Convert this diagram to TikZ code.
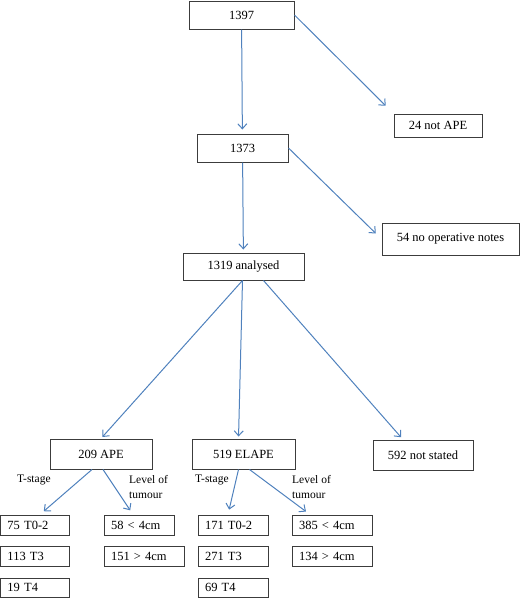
\documentclass[tikz,border=0pt]{standalone}
\usepackage{fontspec}
\setmainfont{Liberation Serif}
\usetikzlibrary{arrows.meta}
\definecolor{flowblue}{RGB}{79,129,189}
\definecolor{boxgrey}{RGB}{60,60,60}
\begin{document}
\begin{tikzpicture}[x=1pt,y=-1pt,
  box/.style={draw=boxgrey, line width=1pt, inner sep=0pt, font=\fontsize{12.5}{14}\selectfont},
  cell/.style={box, inner xsep=7pt, minimum height=20pt, align=left},
  flow/.style={draw=flowblue, line width=1pt, -{Straight Barb[length=5pt,width=9pt]}},
  lab/.style={font=\fontsize{11.5}{15}\selectfont, inner sep=0pt, anchor=west, align=left}]
\useasboundingbox (0,0) rectangle (520,598);
% main flow
\node[box, minimum width=105pt, minimum height=28pt] (n1397) at (241.5,15){1397};
\node[box, minimum width=88pt, minimum height=23pt] (n24) at (438,125.5){24 not APE};
\node[box, minimum width=91pt, minimum height=28pt] (n1373) at (242.5,148){1373};
\node[box, minimum width=137pt, minimum height=32pt] (n54) at (450.5,239){54 no operative notes};
\node[box, minimum width=121pt, minimum height=27pt] (n1319) at (243.5,266.5){1319 analysed};
\draw[flow, shorten >=4pt](n1397) -- (n1373);
\draw[flow, shorten >=11pt](n1397.east) -- (n24.north west);
\draw[flow, shorten >=3pt](n1373) -- (n1319);
\draw[flow, shorten >=8pt](n1373.east) -- (n54.west);
% split by operation
\node[box, minimum width=102pt, minimum height=30pt] (ape) at (101,454){209 APE};
\node[box, minimum width=103pt, minimum height=30pt] (elape) at (243.5,454){519 ELAPE};
\node[box, minimum width=100pt, minimum height=30pt] (ns) at (423,455){592 not stated};
\draw[flow, shorten >=2pt]([xshift=-1pt]n1319.south) -- (ape.north);
\draw[flow, shorten >=2pt]([xshift=-1pt]n1319.south) -- ([xshift=-5pt]elape.north);
\draw[flow, shorten >=3pt]([xshift=20pt]n1319.south) -- ([xshift=-20pt]ns.north);
% APE
\node[lab] (apet) at (17,480){T-stage};
\node[lab] (apel) at (129,487){Level of\\tumour};
\node[cell, text width=55pt] (a1) at (35,525){75 T0-2};
\node[cell, text width=56pt] (a2) at (139,525){58 < 4cm};
\node[cell, text width=55pt] (a3) at (35,556){113 T3};
\node[cell, text width=66pt] (a4) at (144,556){151 > 4cm};
\node[cell, text width=55pt, minimum height=19pt] (a5) at (35,587.5){19 T4};
\draw[flow, shorten >=5pt]([xshift=-9pt]ape.south) -- ([xshift=5pt]a1.north);
\draw[flow, shorten >=5pt]([xshift=2pt]ape.south) -- ([xshift=-6pt]a2.north);
% ELAPE
\node[lab] (elapet) at (195,480){T-stage};
\node[lab] (elapel) at (292,487){Level of\\tumour};
\node[cell, text width=56pt] (e1) at (233,525){171 T0-2};
\node[cell, text width=66pt] (e2) at (332,525){385 < 4cm};
\node[cell, text width=56pt] (e3) at (233,556){271 T3};
\node[cell, text width=66pt] (e4) at (332,556){134 > 4cm};
\node[cell, text width=56pt, minimum height=19pt] (e5) at (233,587.5){69 T4};
\draw[flow, shorten >=5pt]([xshift=-5pt]elape.south) -- ([xshift=-5pt]e1.north);
\draw[flow, shorten >=5pt]([xshift=6pt]elape.south) -- ([xshift=-22pt]e2.north);
\end{tikzpicture}
\end{document}
